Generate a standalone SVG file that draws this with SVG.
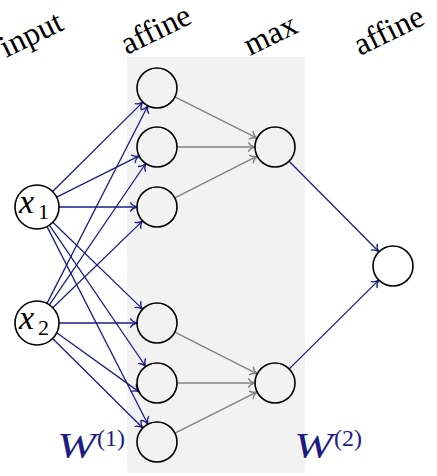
<svg xmlns="http://www.w3.org/2000/svg" width="437" height="476" viewBox="0 0 437 476">
<style>
.node{fill:none;stroke:#000;stroke-width:1.6}
.b{stroke:#1c1c84;stroke-width:1.3;fill:none;marker-end:url(#ab)}
.g{stroke:#848484;stroke-width:1.6;fill:none;marker-end:url(#ag)}
.lbl{font-family:'Liberation Serif','Times New Roman',serif;font-size:32px;fill:#000}
.serif{font-family:'Liberation Serif','Times New Roman',serif}
.wl{fill:#1c1c84}
</style>
<defs>
<marker id="ab" markerUnits="userSpaceOnUse" viewBox="-10 -6 12 12" refX="0" refY="0" markerWidth="12" markerHeight="12" orient="auto" overflow="visible">
<path d="M-6.5,-4.2 C-5,-1.6 -2,-0.5 0,0 C-2,0.5 -5,1.6 -6.5,4.2" fill="none" stroke="#1c1c84" stroke-width="1.3" stroke-linecap="round"/>
</marker>
<marker id="ag" markerUnits="userSpaceOnUse" viewBox="-10 -6 12 12" refX="0" refY="0" markerWidth="12" markerHeight="12" orient="auto" overflow="visible">
<path d="M-6.5,-4.2 C-5,-1.6 -2,-0.5 0,0 C-2,0.5 -5,1.6 -6.5,4.2" fill="none" stroke="#848484" stroke-width="1.4" stroke-linecap="round"/>
</marker>
</defs>
<rect x="127" y="57" width="178" height="416" fill="#f2f2f2"/>
<g id="labels">
<text class="lbl" transform="translate(6,58) rotate(-26)">input</text>
<text class="lbl" transform="translate(127,55) rotate(-26)">affine</text>
<text class="lbl" transform="translate(250,56) rotate(-26)">max</text>
<text class="lbl" transform="translate(360,56) rotate(-26)">affine</text>
</g>
<g id="connectors">
<line class="b" x1="52.6" y1="191.5" x2="142.8" y2="102.1"/>
<line class="b" x1="56.7" y1="197.2" x2="139.1" y2="155.9"/>
<line class="b" x1="59" y1="207" x2="137" y2="207"/>
<line class="b" x1="52.8" y1="222.3" x2="142.6" y2="309.1"/>
<line class="b" x1="49.4" y1="225.2" x2="145.7" y2="366.5"/>
<line class="b" x1="47.0" y1="226.6" x2="147.9" y2="424.2"/>
<line class="b" x1="47.0" y1="303.4" x2="147.9" y2="105.8"/>
<line class="b" x1="49.4" y1="304.8" x2="145.7" y2="163.5"/>
<line class="b" x1="52.8" y1="307.7" x2="142.6" y2="220.9"/>
<line class="b" x1="59" y1="323" x2="137" y2="323"/>
<line class="b" x1="56.7" y1="332.8" x2="139.1" y2="391.9"/>
<line class="b" x1="52.6" y1="338.5" x2="142.8" y2="428.0"/>
<line class="g" x1="174.9" y1="96.9" x2="257.1" y2="138.1"/>
<line class="g" x1="177" y1="147" x2="255" y2="147"/>
<line class="g" x1="174.8" y1="197.9" x2="257.2" y2="156.1"/>
<line class="g" x1="174.8" y1="332.1" x2="257.2" y2="373.9"/>
<line class="g" x1="177" y1="383" x2="255" y2="383"/>
<line class="g" x1="174.9" y1="433.1" x2="257.1" y2="391.9"/>
<line class="b" x1="289.1" y1="161.2" x2="378.9" y2="251.8"/>
<line class="b" x1="289.2" y1="368.9" x2="378.8" y2="280.1"/>
</g>
<g id="x1" class="serif">
<circle class="node" cx="37" cy="207" r="22"/>
<text x="19" y="213" font-size="34" font-style="italic">x</text>
<text x="38" y="219" font-size="22">1</text>
</g>
<g id="x2" class="serif">
<circle class="node" cx="37" cy="323" r="22"/>
<text x="19" y="329" font-size="34" font-style="italic">x</text>
<text x="38" y="335" font-size="22">2</text>
</g>
<g id="h1"><circle class="node" cx="157" cy="88" r="20"/></g>
<g id="h2"><circle class="node" cx="157" cy="147" r="20"/></g>
<g id="h3"><circle class="node" cx="157" cy="207" r="20"/></g>
<g id="h4"><circle class="node" cx="157" cy="323" r="20"/></g>
<g id="h5"><circle class="node" cx="157" cy="383" r="20"/></g>
<g id="h6"><circle class="node" cx="157" cy="442" r="20"/></g>
<g id="m1"><circle class="node" cx="275" cy="147" r="20"/></g>
<g id="m2"><circle class="node" cx="275" cy="383" r="20"/></g>
<g id="out"><circle class="node" cx="393" cy="266" r="20"/></g>
<g id="w1" class="serif wl">
<text x="57" y="458" font-size="36" font-style="italic" textLength="39" lengthAdjust="spacingAndGlyphs">W</text>
<text x="97" y="446" font-size="24">(1)</text>
</g>
<g id="w2" class="serif wl">
<text x="294" y="458" font-size="36" font-style="italic" textLength="39" lengthAdjust="spacingAndGlyphs">W</text>
<text x="334" y="446" font-size="24">(2)</text>
</g>
</svg>
